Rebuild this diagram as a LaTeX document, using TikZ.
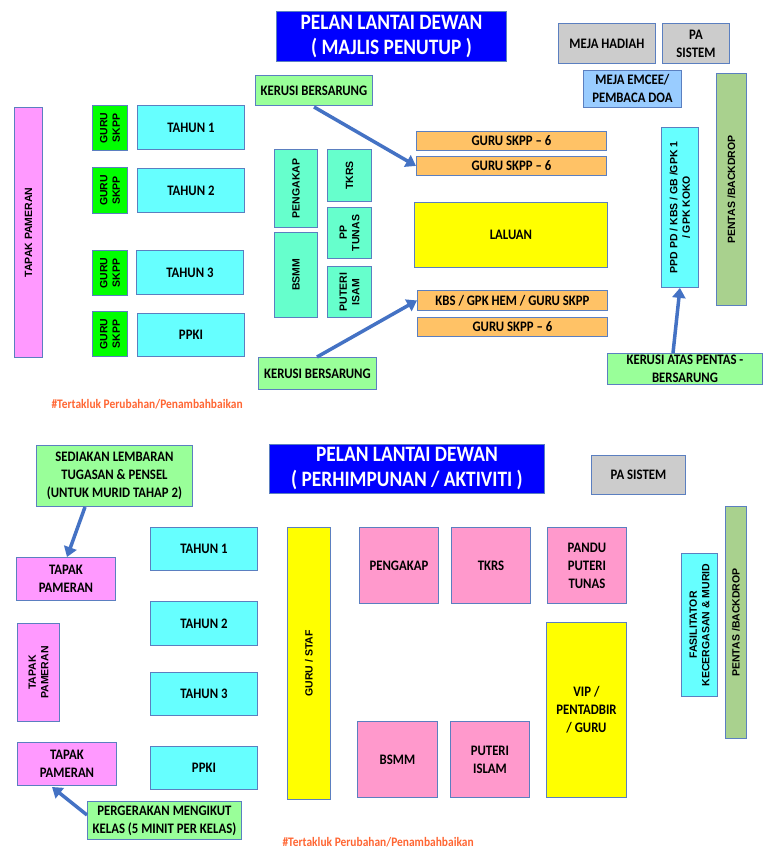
\documentclass[tikz,border=0pt]{standalone}
\usepackage{fontspec}
\setmainfont{Carlito}[FakeStretch=0.88]
\newfontfamily\rotf{Liberation Sans}
\usetikzlibrary{arrows.meta}
\definecolor{bl}{HTML}{5B7FC0}
\definecolor{cyanb}{HTML}{66FFFF}
\definecolor{grn}{HTML}{00FF00}
\definecolor{mint}{HTML}{66FFCC}
\definecolor{orng}{HTML}{FFC266}
\definecolor{yel}{HTML}{FFFF00}
\definecolor{lgrn}{HTML}{99FF99}
\definecolor{pnk}{HTML}{FF99FF}
\definecolor{pnk2}{HTML}{FF99CC}
\definecolor{gry}{HTML}{CCCCCC}
\definecolor{lblu}{HTML}{99CCFF}
\definecolor{olv}{HTML}{A9D18E}
\definecolor{ttl}{HTML}{0000FF}
\definecolor{arr}{HTML}{4472C4}
\definecolor{note}{HTML}{FF6633}
\newcommand\bx[7]{\node[bxs,#6,anchor=north west,minimum width={(#4)-(#2)},minimum height={(#5)-(#3)}] (#1) at (#2,#3) {#7};}
\begin{document}
\begin{tikzpicture}[x=1pt,y=-1pt,
 bxs/.style={draw=bl,line width=0.9pt,inner sep=1pt,align=center,font=\bfseries\fontsize{14.5}{18}\selectfont},
 rot/.style={rotate=90,font=\rotf\bfseries\fontsize{10.5}{12.5}\selectfont},
 title/.style={fill=ttl,draw=bl,text=white,font=\bfseries\fontsize{22}{25}\selectfont},
 arrw/.style={draw=arr,line width=3.5pt,-{Triangle[length=10pt,width=13pt]}}]
\useasboundingbox (0,0) rectangle (768,866);
% ---------- top ----------
\bx{t1}{276}{11}{506}{61}{title}{PELAN LANTAI DEWAN\\( MAJLIS PENUTUP )}
\bx{mh}{558}{23}{655}{63}{fill=gry}{MEJA HADIAH}
\bx{pa}{662}{23}{729}{63}{fill=gry}{PA\\SISTEM}
\bx{em}{583}{70}{681}{107}{fill=lblu}{MEJA EMCEE/\\PEMBACA DOA}
\bx{kb1}{255}{75}{372}{105}{fill=lgrn}{KERUSI BERSARUNG}
\bx{tp}{14}{107}{42}{357}{fill=pnk}{}
\node[rot] at (tp) {TAPAK PAMERAN};
\bx{g1}{92}{105}{127}{150}{fill=grn}{} \node[rot,align=center] at (g1) {GURU\\SKPP};
\bx{g2}{92}{167}{127}{213}{fill=grn}{} \node[rot,align=center] at (g2) {GURU\\SKPP};
\bx{g3}{92}{250}{127}{295}{fill=grn}{} \node[rot,align=center] at (g3) {GURU\\SKPP};
\bx{g4}{92}{311}{127}{356}{fill=grn}{} \node[rot,align=center] at (g4) {GURU\\SKPP};
\bx{a1}{137}{105}{244}{149}{fill=cyanb}{TAHUN 1}
\bx{a2}{137}{168}{244}{212}{fill=cyanb}{TAHUN 2}
\bx{a3}{136}{250}{243}{294}{fill=cyanb}{TAHUN 3}
\bx{a4}{137}{313}{244}{356}{fill=cyanb}{PPKI}
\bx{pg}{274}{149}{317}{227}{fill=mint}{} \node[rot] at (pg) {PENGAKAP};
\bx{bs}{274}{232}{317}{317}{fill=mint}{} \node[rot] at (bs) {BSMM};
\bx{tk}{327}{149}{371}{201}{fill=mint}{} \node[rot] at (tk) {TKRS};
\bx{pp}{327}{207}{371}{258}{fill=mint}{} \node[rot,align=center] at (pp) {PP\\TUNAS};
\bx{pi}{327}{266}{371}{317}{fill=mint}{} \node[rot,align=center] at (pi) {PUTERI\\ISAM};
\bx{o1}{416}{131}{606}{150}{fill=orng}{GURU SKPP – 6}
\bx{o2}{416}{156}{606}{175}{fill=orng}{GURU SKPP – 6}
\bx{la}{414}{202}{607}{267}{fill=yel}{LALUAN}
\bx{o3}{417}{290}{607}{310}{fill=orng}{KBS / GPK HEM / GURU SKPP}
\bx{o4}{417}{317}{607}{336}{fill=orng}{GURU SKPP – 6}
\bx{pd}{661}{127}{698}{287}{fill=cyanb}{}
\node[rot,align=center] at (pd) {PPD PD / KBS / GB /GPK 1\\/ GPK KOKO};
\bx{ps}{716}{73}{746}{305}{fill=olv}{} \node[rot] at (ps) {PENTAS /BACKDROP};
\bx{ka}{607}{353}{762}{384}{fill=lgrn}{KERUSI ATAS PENTAS -\\BERSARUNG};
\bx{kb2}{258}{357}{376}{389}{fill=lgrn}{KERUSI BERSARUNG}
\node[text=note,font=\bfseries\fontsize{13}{15}\selectfont,anchor=west] (n1) at (48,404) {\#Tertakluk Perubahan/Penambahbaikan};
\coordinate (s1) at (314,107); \coordinate (s2) at (317,357); \coordinate (s3) at (673,353);
\draw[arrw] (s1) -- (o2.west);
\draw[arrw] (s2) -- (o3.west);
\draw[arrw] (s3) -- (pd.south);
% ---------- bottom ----------
\bx{sd}{36}{445}{192}{506}{fill=lgrn}{SEDIAKAN LEMBARAN\\TUGASAN \& PENSEL\\(UNTUK MURID TAHAP 2)}
\bx{t2}{269}{444}{544}{493}{title}{PELAN LANTAI DEWAN\\( PERHIMPUNAN / AKTIVITI )}
\bx{pa2}{591}{455}{685}{494}{fill=gry}{PA SISTEM}
\bx{tp1}{16}{557}{115}{600}{fill=pnk}{TAPAK\\PAMERAN}
\bx{tp2}{17}{623}{59}{721}{fill=pnk}{} \node[rot,align=center] at (tp2) {TAPAK\\PAMERAN};
\bx{tp3}{17}{742}{116}{785}{fill=pnk}{TAPAK\\PAMERAN}
\bx{b1}{150}{527}{257}{570}{fill=cyanb}{TAHUN 1}
\bx{b2}{150}{601}{257}{645}{fill=cyanb}{TAHUN 2}
\bx{b3}{150}{672}{257}{715}{fill=cyanb}{TAHUN 3}
\bx{b4}{150}{746}{257}{789}{fill=cyanb}{PPKI}
\bx{gs}{287}{527}{330}{799}{fill=yel}{} \node[rot] at (gs) {GURU / STAF};
\bx{pg2}{359}{527}{438}{603}{fill=pnk2}{PENGAKAP}
\bx{tk2}{451}{527}{530}{603}{fill=pnk2}{TKRS}
\bx{pt}{547}{527}{626}{603}{fill=pnk2}{PANDU\\PUTERI\\TUNAS}
\bx{vip}{546}{622}{626}{797}{fill=yel}{VIP /\\PENTADBIR\\/ GURU}
\bx{bs2}{357}{721}{437}{797}{fill=pnk2}{BSMM}
\bx{pis}{450}{721}{529}{797}{fill=pnk2}{PUTERI\\ISLAM}
\bx{fa}{681}{553}{717}{696}{fill=cyanb}{} \node[rot,align=center] at (fa) {FASILITATOR\\KECERGASAN \& MURID};
\bx{ps2}{725}{506}{746}{738}{fill=olv}{} \node[rot] at (ps2) {PENTAS /BACKDROP};
\bx{pr}{87}{801}{241}{839}{fill=lgrn}{PERGERAKAN MENGIKUT\\KELAS (5 MINIT PER KELAS)}
\node[text=note,font=\bfseries\fontsize{13}{15}\selectfont,anchor=west] (n2) at (279,842) {\#Tertakluk Perubahan/Penambahbaikan};
\coordinate (s4) at (85,507); \coordinate (s5) at (87,815); \coordinate (e5) at (52,787);
\draw[arrw] (s4) -- (tp1.north -| 67,0);
\draw[arrw] (s5) -- (e5);
\end{tikzpicture}
\end{document}
